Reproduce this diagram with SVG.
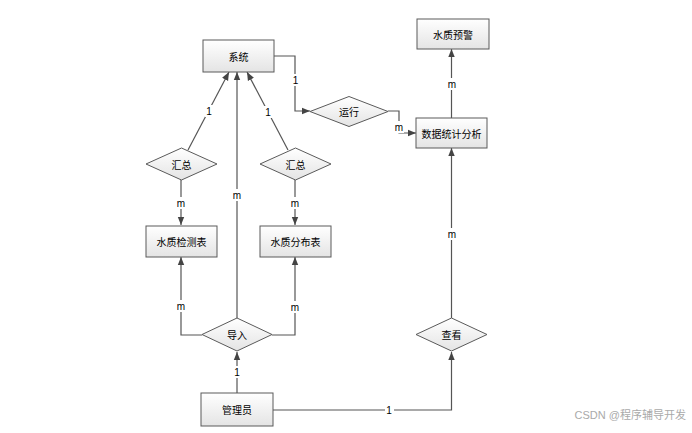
<svg xmlns="http://www.w3.org/2000/svg" width="692" height="433" viewBox="0 0 692 433">
<style>
.n{fill:url(#g);stroke:#5a5a5a;stroke-width:1}
.t{font-family:"Noto Sans CJK SC","Liberation Sans",sans-serif;font-size:10px;fill:#000;text-anchor:middle;dominant-baseline:central}
.c{fill:none;stroke:#555;stroke-width:1.2}
.lb{fill:#fff}
.l{font-family:"Liberation Sans",sans-serif;font-size:10px;text-anchor:middle;dominant-baseline:central;fill:#000}
</style>
<defs>
<linearGradient id="g" x1="0" y1="0" x2="0" y2="1"><stop offset="0" stop-color="#fff"/><stop offset="1" stop-color="#e4e4e4"/></linearGradient>
<marker id="a" viewBox="0 0 10 10" refX="10" refY="5" markerWidth="7" markerHeight="7" orient="auto"><path d="M0,1L10,5L0,9z" fill="#444"/></marker>
</defs>
<rect width="692" height="433" fill="#fff"/>
<g id="connectors">
<path class="c" d="M274,56H295V111H310" marker-end="url(#a)"/>
<path class="c" d="M388,111H399V133H416" marker-end="url(#a)"/>
<path class="c" d="M451.5,118V49" marker-end="url(#a)"/>
<path class="c" d="M451.5,318V148" marker-end="url(#a)"/>
<path class="c" d="M273,410H451.5V352" marker-end="url(#a)"/>
<path class="c" d="M237,393V352" marker-end="url(#a)"/>
<path class="c" d="M202,335H181V257" marker-end="url(#a)"/>
<path class="c" d="M272,335H295V257" marker-end="url(#a)"/>
<path class="c" d="M237,318V72" marker-end="url(#a)"/>
<path class="c" d="M188,150L229,72" marker-end="url(#a)"/>
<path class="c" d="M288,150L247,72" marker-end="url(#a)"/>
<path class="c" d="M181,180V225" marker-end="url(#a)"/>
<path class="c" d="M295,180V225" marker-end="url(#a)"/>
<g>
<rect class="lb" x="291" y="74" width="9" height="12"/><text class="l" x="295.5" y="80">1</text>
<rect class="lb" x="394" y="121" width="10" height="12"/><text class="l" x="399" y="127">m</text>
<rect class="lb" x="446" y="78" width="11" height="12"/><text class="l" x="452" y="84">m</text>
<rect class="lb" x="446" y="228" width="11" height="12"/><text class="l" x="452" y="234">m</text>
<rect class="lb" x="385" y="404" width="9" height="12"/><text class="l" x="389" y="410">1</text>
<rect class="lb" x="233" y="366" width="9" height="12"/><text class="l" x="237" y="372">1</text>
<rect class="lb" x="176" y="300" width="11" height="12"/><text class="l" x="181" y="306">m</text>
<rect class="lb" x="290" y="301" width="11" height="12"/><text class="l" x="295" y="307">m</text>
<rect class="lb" x="232" y="189" width="11" height="12"/><text class="l" x="237" y="195">m</text>
<rect class="lb" x="205" y="105" width="9" height="12"/><text class="l" x="209" y="111">1</text>
<rect class="lb" x="264" y="106" width="9" height="12"/><text class="l" x="268" y="112">1</text>
<rect class="lb" x="176" y="197" width="11" height="12"/><text class="l" x="181" y="203">m</text>
<rect class="lb" x="290" y="197" width="11" height="12"/><text class="l" x="295" y="203">m</text>
</g>
</g>
<g id="xitong"><rect class="n" x="203" y="40" width="71" height="32"/><text class="t" x="238.5" y="56">系统</text></g>
<g id="yujing"><rect class="n" x="417" y="19" width="72" height="30"/><text class="t" x="453" y="34">水质预警</text></g>
<g id="yunxing"><polygon class="n" points="310,111.5 349,96.5 388,111.5 349,126.5"/><text class="t" x="349" y="111.5">运行</text></g>
<g id="fenxi"><rect class="n" x="416" y="118" width="71" height="30"/><text class="t" x="451.5" y="133">数据统计分析</text></g>
<g id="huizong1"><polygon class="n" points="146,164 181.5,148 217,164 181.5,180"/><text class="t" x="181.5" y="164">汇总</text></g>
<g id="huizong2"><polygon class="n" points="260,164 295.5,148 331,164 295.5,180"/><text class="t" x="295.5" y="164">汇总</text></g>
<g id="jiance"><rect class="n" x="146" y="226" width="71" height="31"/><text class="t" x="181.5" y="241.5">水质检测表</text></g>
<g id="fenbu"><rect class="n" x="260" y="226" width="71" height="31"/><text class="t" x="295.5" y="241.5">水质分布表</text></g>
<g id="daoru"><polygon class="n" points="202,334.5 237,318 272,334.5 237,351"/><text class="t" x="237" y="334.5">导入</text></g>
<g id="chakan"><polygon class="n" points="416,334.5 451.5,318 487,334.5 451.5,351"/><text class="t" x="451.5" y="334.5">查看</text></g>
<g id="guanliyuan"><rect class="n" x="201" y="393" width="72" height="33"/><text class="t" x="237" y="409.5">管理员</text></g>
<text x="686" y="419" font-family="Liberation Sans,Noto Sans CJK SC,sans-serif" font-size="11" fill="#aaa" text-anchor="end">CSDN @程序辅导开发</text>
</svg>
